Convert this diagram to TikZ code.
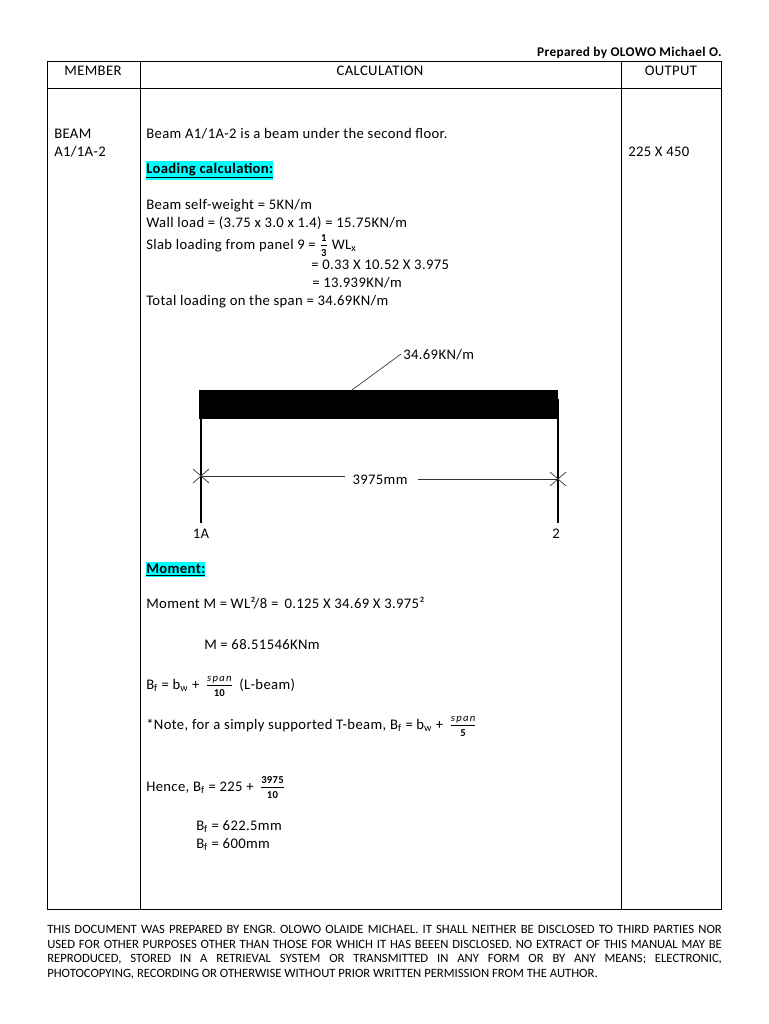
\documentclass[tikz,border=0pt]{standalone}
\usepackage{fontspec}
\usepackage{amsmath}
\setmainfont{Carlito}[LetterSpace=2.5]
\newfontfamily\legalfont{Carlito}
\definecolor{hilitecol}{RGB}{0,255,255}
\tikzset{
  body/.style={anchor=base west, inner sep=0pt, yshift=-0.75pt, font=\fontsize{11}{13}\selectfont},
  head/.style={anchor=base, inner sep=0pt, yshift=-0.75pt, font=\fontsize{11}{13}\selectfont},
  hilite/.style={body, fill=hilitecol, inner ysep=1pt, font=\fontsize{11}{13}\selectfont\bfseries},
  post/.style={line width=1.2pt},
  thin dim/.style={line width=0.5pt, black!80},
}
\newcommand{\Bf}{B\textsubscript{f}}
\newcommand{\bw}{b\textsubscript{w}}
\newcommand{\fr}[2]{$\frac{\text{\fontsize{8}{9}\selectfont\bfseries #1\rule[-2pt]{0pt}{6pt}}}{\text{\fontsize{8}{9}\selectfont\bfseries #2\rule{0pt}{8pt}}}$}
\newcommand{\spantxt}{$\mathit{s\mkern2mu p\mkern2mu a\mkern2mu n}$}
\begin{document}
\begin{tikzpicture}[x=0.75pt, y=-0.75pt]
  \useasboundingbox (0, 0) rectangle (768, 1024);
  % table
  \draw[line width=0.7pt] (47, 61) rectangle (721, 909);
  \draw[line width=0.7pt] (47, 88) -- (721, 88);
  \draw[line width=0.7pt] (140, 61) -- (140, 909);
  \draw[line width=0.7pt] (621, 61) -- (621, 909);
  \node[anchor=base east, inner sep=0pt, yshift=-0.75pt, font=\fontsize{10}{12}\selectfont\bfseries] (author) at (722, 56) {Prepared by OLOWO Michael O.};
  \node[head] (member) at (93, 74) {MEMBER};
  \node[head] (calc) at (380, 74) {CALCULATION};
  \node[head] (output) at (671, 74) {OUTPUT};
  \node[body] (beamA) at (54, 137) {BEAM};
  \node[body] (beamB) at (54, 155) {A1/1A-2};
  \node[body] (size) at (628, 155) {225 X 450};
  % loading
  \node[body] (intro) at (146, 137) {Beam A1/1A-2 is a beam under the second floor.};
  \node[hilite] (loadhead) at (146, 172) {\underline{Loading calculation:}};
  \node[body] (self) at (146, 208) {Beam self-weight = 5KN/m};
  \node[body] (wall) at (146, 226) {Wall load = (3.75 x 3.0 x 1.4) = 15.75KN/m};
  \node[body] (slab) at (146, 248) {Slab loading from panel 9 = \fr{1}{3} WL\textsubscript{x}};
  \node[body] (slabA) at (311, 268) {= 0.33 X 10.52 X 3.975};
  \node[body] (slabB) at (312, 286) {= 13.939KN/m};
  \node[body] (total) at (146, 304) {Total loading on the span = 34.69KN/m};
  % beam
  \fill[black] (199, 390) rectangle (558, 419);
  \coordinate (load) at (352, 390);
  \node[body] (loadval) at (403, 358) {34.69KN/m};
  \draw[thin dim] (load) -- (401, 354);
  \coordinate (topA) at (201, 419);
  \coordinate (topB) at (558, 399);
  \coordinate (endA) at (201, 523);
  \coordinate (endB) at (558, 523);
  \draw[post] (topA) -- (endA);
  \draw[post] (topB) -- (endB);
  \node[head] (span) at (380, 483) {3975mm};
  \coordinate (dimA) at (201, 476);
  \coordinate (dimB) at (558, 479);
  \draw[thin dim] (dimA) -- (345, 476);
  \draw[thin dim] (418, 479) -- (dimB);
  \draw[thin dim] (193, 469) -- (209, 483);
  \draw[thin dim] (193, 483) -- (209, 469);
  \draw[thin dim] (550, 472) -- (566, 486);
  \draw[thin dim] (550, 486) -- (566, 472);
  \node[head] (supA) at (201, 537) {1A};
  \node[head] (supB) at (556, 537) {2};
  % moment
  \node[hilite] (momhead) at (146, 572) {\underline{Moment:}};
  \node[body] (mom) at (146, 607) {Moment M = WL²/8 =\, 0.125 X 34.69 X 3.975²};
  \node[body] (momval) at (204, 648) {M = 68.51546KNm};
  \node[body] (flange) at (146, 688) {\Bf{} = \bw{} + \,\fr{\spantxt}{10}\, (L-beam)};
  \node[body] (note) at (146, 728) {*Note, for a simply supported T-beam, \Bf{} = \bw{} + \,\fr{\spantxt}{5}};
  \node[body] (hence) at (146, 790) {Hence, \Bf{} = 225 + \,\fr{3975}{10}};
  \node[body] (flangeA) at (196, 829) {\Bf{} = 622.5mm};
  \node[body] (flangeB) at (196, 847) {\Bf{} = 600mm};
  % footer
  \node[anchor=north west, inner sep=0pt, text width=506pt, align=justify, font=\legalfont\fontsize{9.5}{11}\selectfont] (legal) at (47, 925) {THIS DOCUMENT WAS PREPARED BY ENGR. OLOWO OLAIDE MICHAEL. IT SHALL NEITHER BE DISCLOSED TO THIRD PARTIES NOR\linebreak USED FOR OTHER PURPOSES OTHER THAN THOSE FOR WHICH IT HAS BEEEN DISCLOSED. NO EXTRACT OF THIS MANUAL MAY BE\linebreak REPRODUCED, STORED IN A RETRIEVAL SYSTEM OR TRANSMITTED IN ANY FORM OR BY ANY MEANS; ELECTRONIC,\linebreak PHOTOCOPYING, RECORDING OR OTHERWISE WITHOUT PRIOR WRITTEN PERMISSION FROM THE AUTHOR.};
\end{tikzpicture}
\end{document}
